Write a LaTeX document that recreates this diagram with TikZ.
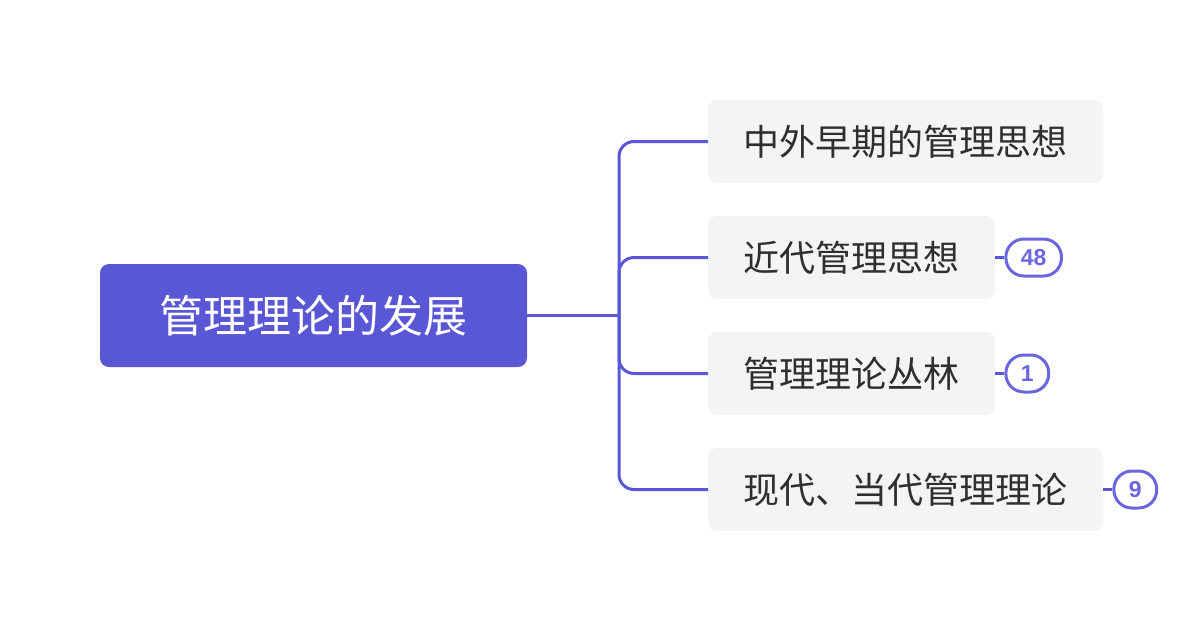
\documentclass[tikz,border=0pt]{standalone}
\usepackage{fontspec}
\setmainfont{Noto Sans CJK SC}
\newfontfamily\badgefont{Liberation Sans}
\usetikzlibrary{positioning,calc}
\definecolor{indigo}{HTML}{5A57D6}
\definecolor{violet}{HTML}{6B66DD}
\definecolor{paper}{HTML}{F4F4F4}
\definecolor{ink}{HTML}{2F2F2F}
\tikzset{
  rootbox/.style={
    rectangle, rounded corners=9pt, fill=indigo, text=white,
    minimum width=427pt, minimum height=103pt,
    font=\fontsize{44}{50}\selectfont, inner sep=0pt
  },
  topicbox/.style={
    rectangle, rounded corners=9pt, fill=paper, text=ink,
    minimum height=83pt, inner xsep=35.5pt, inner ysep=0pt,
    font=\fontsize{36}{40}\selectfont, anchor=west
  },
  branch/.style={
    line width=3pt, color=indigo
  },
  badge/.style={
    rectangle, rounded corners=18pt, draw=violet, fill=white, line width=3pt,
    minimum width=37pt, minimum height=37pt, inner xsep=15pt, inner ysep=0pt,
    text=violet, font=\badgefont\bfseries\fontsize{23}{23}\selectfont, anchor=west
  },
}

\begin{document}
\begin{tikzpicture}[x=1pt, y=-1pt]
  \useasboundingbox (0,0) rectangle (1204,632);
  \node[rootbox] at (313.5,315.5) (root) {管理理论的发展};
  \node[topicbox] at (708,141.5) (early) {中外早期的管理思想};
  \node[topicbox] at (708,257.5) (recent) {近代管理思想};
  \node[topicbox] at (708,373.5) (jungle) {管理理论丛林};
  \node[topicbox] at (708,489.5) (modern) {现代、当代管理理论};
  \node[badge] at ([xshift=9pt]recent.east) (nrecent) {48};
  \node[badge] at ([xshift=9pt]jungle.east) (njungle) {1};
  \node[badge] at ([xshift=9pt]modern.east) (nmodern) {9};
  % trunk
  \coordinate (fork) at (619,315.5);
  \draw[branch] (root.east) -- (fork);
  \draw[branch, rounded corners=15pt] (fork) |- (early.west);
  \draw[branch, rounded corners=15pt] (fork) |- (recent.west);
  \draw[branch, rounded corners=15pt] (fork) |- (jungle.west);
  \draw[branch, rounded corners=15pt] (fork) |- (modern.west);
  % counters
  \draw[branch] (recent.east) -- (nrecent.west);
  \draw[branch] (jungle.east) -- (njungle.west);
  \draw[branch] (modern.east) -- (nmodern.west);
\end{tikzpicture}
\end{document}
